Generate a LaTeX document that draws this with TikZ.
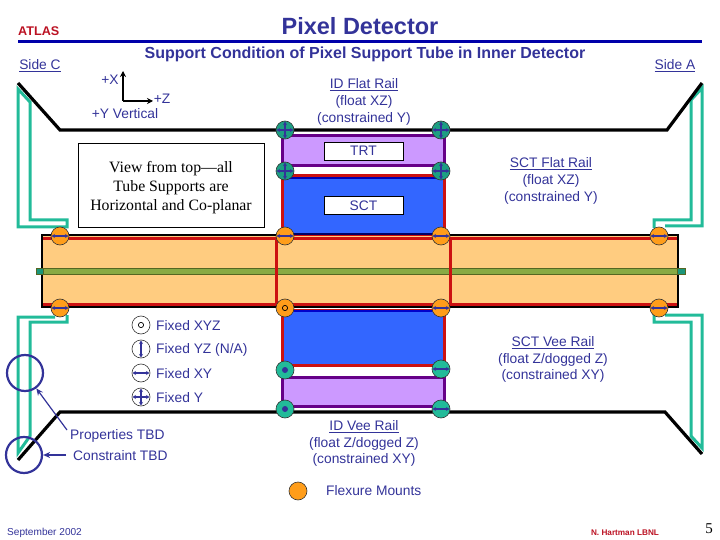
\documentclass[tikz,border=0pt]{standalone}
\usepackage{fontspec}
\setmainfont{Liberation Sans}
\newfontfamily\viewfont{Liberation Serif}
\usepackage{xcolor}
\usetikzlibrary{arrows.meta}
\definecolor{navytext}{HTML}{333399}
\definecolor{titleblue}{HTML}{0000AA}
\definecolor{atlasred}{HTML}{BB1122}
\definecolor{tealbar}{HTML}{22BB99}
\definecolor{tubeorange}{HTML}{FFCC80}
\definecolor{mountorange}{HTML}{FF9D1A}
\definecolor{railred}{HTML}{CC1111}
\definecolor{sctblue}{HTML}{3366FF}
\definecolor{trtpurple}{HTML}{CC99FF}
\definecolor{trtedge}{HTML}{660088}
\definecolor{bandgreen}{HTML}{88AA44}
\definecolor{bandedge}{HTML}{556622}
\tikzset{
  label text/.style={text=navytext, font=\fontsize{13.8}{16.8}\selectfont, align=center, inner sep=1pt},
  left text/.style={label text, anchor=west},
  bracket/.style={draw=tealbar, line width=3pt, line join=miter},
  rail/.style={draw=black, line width=3.2pt},
  mount/.style={circle, draw=black!80, line width=0.6pt, minimum size=18pt, inner sep=0pt},
  tip arrow/.style={draw=navytext, line width=1.3pt, {Stealth[length=3.5pt,width=4pt]}-{Stealth[length=3.5pt,width=4pt]}},
  cross mount/.style={mount, path picture={
      \draw[tip arrow] ([xshift=-8.5pt]path picture bounding box.center) -- ([xshift=8.5pt]path picture bounding box.center);
      \draw[tip arrow] ([yshift=-8.5pt]path picture bounding box.center) -- ([yshift=8.5pt]path picture bounding box.center);}},
  flat mount/.style={mount, path picture={
      \draw[tip arrow] ([xshift=-8.5pt]path picture bounding box.center) -- ([xshift=8.5pt]path picture bounding box.center);}},
  upright mount/.style={mount, path picture={
      \draw[tip arrow] ([yshift=-8.5pt]path picture bounding box.center) -- ([yshift=8.5pt]path picture bounding box.center);}},
  dot mount/.style={mount, path picture={
      \fill[navytext] (path picture bounding box.center) circle (3pt);}},
  ring mount/.style={mount, path picture={
      \draw[black, line width=0.7pt] (path picture bounding box.center) circle (2.6pt);}},
  big ring/.style={circle, draw=navytext, line width=2.2pt, minimum size=36pt, inner sep=0pt},
  tag box/.style={rectangle, draw=black, line width=0.8pt, fill=white, text=navytext, minimum width=79pt, minimum height=18pt, inner sep=0pt, font=\fontsize{13.8}{15}\selectfont}
}
\begin{document}
\begin{tikzpicture}[x=1pt, y=-1pt]
        \useasboundingbox (0,0) rectangle (720,540);

        \node (title) [text=navytext, font=\bfseries\fontsize{23.5}{26}\selectfont] at (360,26) {Pixel Detector};
        \node (atlas) [anchor=west, inner sep=0pt, text=atlasred, font=\bfseries\fontsize{12.6}{14}\selectfont] at (18,31) {ATLAS};
        \draw [titleblue, line width=3pt] (18,42) -- (702,42);
        \node (subtitle) [text=navytext, font=\bfseries\fontsize{16}{18}\selectfont] at (365,54.5) {Support Condition of Pixel Support Tube in Inner Detector};
        \node (sidec) [label text] at (40,66) {\underline{Side C}};
        \node (sidea) [label text] at (675,66) {\underline{Side A}};

        % tube
        \filldraw [fill=tubeorange, draw=black, line width=2.6pt] (42,235) rectangle (678,307);
        \filldraw [fill=tealbar!80!black, draw=bandedge, line width=0.6pt] (36,268) rectangle (685,274);
        \filldraw [fill=bandgreen, draw=bandedge, line width=0.6pt] (43,268) rectangle (677,274);
        \draw [railred, line width=3pt] (43,238) -- (677,238);
        \draw [railred, line width=3pt] (43,304) -- (677,304);
        \draw [railred, line width=3pt] (276,238) -- (276,304);
        \draw [railred, line width=3pt] (450,238) -- (450,304);

        % brackets
        \draw [bracket] (18,89) -- (18,227) -- (67,227) -- (67,220) -- (30,220) -- (30,102) -- cycle;
        \draw [bracket] (55,317) -- (18,317) -- (18,453) -- (30,436) -- (30,322) -- (67,322) -- (67,315);
        \draw [bracket] (665,226) -- (702,226) -- (702,88) -- (691,100) -- (691,220) -- (654,220) -- (654,228);
        \draw [bracket] (665,315) -- (702,315) -- (702,448) -- (691,436) -- (691,322) -- (654,322) -- (654,315);

        % rails
        \draw [rail] (18,83) -- (60,130) -- (667,130) -- (702,83);
        \draw [rail] (18,460) -- (60,412) -- (665,412) -- (702,454);

        % detector boxes
        \filldraw [fill=trtpurple, draw=trtedge, line width=3pt] (282,136) rectangle (444,166);
        \filldraw [fill=sctblue, draw=railred, line width=3pt] (282,176) rectangle (444,234);
        \draw [blue!70!black, line width=1.4pt] (283.5,178) -- (442.5,178);
        \draw [black!60!blue, line width=2.4pt] (283,234) -- (443,234);
        \filldraw [fill=sctblue, draw=railred, line width=3pt] (282,310) rectangle (444,365);
        \draw [blue!80!black, line width=1.4pt] (283.5,311) -- (442.5,311);
        \filldraw [fill=trtpurple, draw=trtedge, line width=3pt] (282,377) rectangle (444,406);
        \node (trt) [tag box] at (363.5,151) {TRT};
        \node (sct) [tag box] at (363.5,205.5) {SCT};

        % view note
        \node (viewbox) [rectangle, draw=black, line width=0.8pt, fill=white, minimum width=186pt, minimum height=84pt] at (171,185) {};
        \node (viewtext) [align=center, font=\viewfont\fontsize{15.8}{19}\selectfont] at (171,188) {View from top—all\\Tube Supports are\\Horizontal and Co-planar};

        % axes
        \coordinate (origin) at (123,101);
        \coordinate (xtip) at (123,71);
        \coordinate (ztip) at (153,101);
        \draw [-{Stealth[length=6pt,width=6pt]}, line width=2pt] (origin) -- (xtip);
        \draw [-{Stealth[length=6pt,width=6pt]}, line width=2pt] (origin) -- (ztip);
        \node (xlabel) [label text] at (110,79.5) {+X};
        \node (zlabel) [label text] at (162,98.5) {+Z};
        \node (ylabel) [label text] at (125,113.5) {+Y Vertical};

        % mounts
        \node (m1) [cross mount, fill=tealbar!85!black] at (285,130) {};
        \node (m2) [cross mount, fill=tealbar!85!black] at (441,130) {};
        \node (m3) [cross mount, fill=tealbar!85!black] at (285,171) {};
        \node (m4) [cross mount, fill=tealbar!85!black] at (441,171) {};
        \node (m5) [flat mount, fill=mountorange] at (60,236) {};
        \node (m6) [flat mount, fill=mountorange] at (285,236) {};
        \node (m7) [flat mount, fill=mountorange] at (441,236) {};
        \node (m8) [flat mount, fill=mountorange] at (659,236) {};
        \node (m9) [flat mount, fill=mountorange] at (60,308) {};
        \node (m10) [ring mount, fill=mountorange] at (285,308) {};
        \node (m11) [flat mount, fill=mountorange] at (441,308) {};
        \node (m12) [flat mount, fill=mountorange] at (659,308) {};
        \node (m13) [dot mount, fill=tealbar] at (285,370) {};
        \node (m14) [flat mount, fill=tealbar] at (441,369) {};
        \node (m15) [dot mount, fill=tealbar] at (285,409) {};
        \node (m16) [flat mount, fill=tealbar] at (441,409) {};

        % legend
        \node (key1) [ring mount, fill=white] at (141,325) {};
        \node (key2) [upright mount, fill=white] at (141,349) {};
        \node (key3) [flat mount, fill=white] at (141,373) {};
        \node (key4) [cross mount, fill=white] at (141,397) {};
        \node (text1) [left text] at (155,325.5) {Fixed XYZ};
        \node (text2) [left text] at (155,349.5) {Fixed YZ (N/A)};
        \node (text3) [left text] at (155,373.5) {Fixed XY};
        \node (text4) [left text] at (155,397.5) {Fixed Y};
        \node (flex) [mount, fill=mountorange] at (298,491) {};
        \node (flextext) [left text] at (325,490.5) {Flexure Mounts};

        % rail notes
        \node (idflat) [label text] at (364,102) {\underline{ID Flat Rail}\\(float XZ)\\(constrained Y)};
        \node (sctflat) [label text] at (551,181) {\underline{SCT Flat Rail}\\(float XZ)\\(constrained Y)};
        \node (sctvee) [label text] at (553,359.5) {\underline{SCT Vee Rail}\\(float Z/dogged Z)\\(constrained XY)};
        \node (idvee) [label text] at (364,443.5) {\underline{ID Vee Rail}\\(float Z/dogged Z)\\(constrained XY)};

        % open points
        \node (ring1) [big ring] at (25,373) {};
        \node (ring2) [big ring] at (24,455) {};
        \node (props) [left text] at (69,435.5) {Properties TBD};
        \node (constr) [left text] at (72,456) {Constraint TBD};
        \coordinate (propsfoot) at (67,430);
        \coordinate (constrfoot) at (66,455);
        \draw [-{Stealth[length=7pt,width=6pt]}, navytext, line width=1.2pt] (propsfoot) -- (ring1);
        \draw [-{Stealth[length=7pt,width=6pt]}, navytext, line width=1.2pt] (constrfoot) -- (ring2);

        % footer
        \node (date) [anchor=west, inner sep=0pt, text=navytext, font=\fontsize{10.1}{12}\selectfont] at (7,533) {September 2002};
        \node (author) [inner sep=0pt, text=atlasred, font=\bfseries\fontsize{8.2}{10}\selectfont] at (625,533) {N. Hartman LBNL};
        \node (page) [inner sep=0pt, font=\viewfont\fontsize{15}{17}\selectfont] at (709,529) {5};
\end{tikzpicture}
\end{document}
